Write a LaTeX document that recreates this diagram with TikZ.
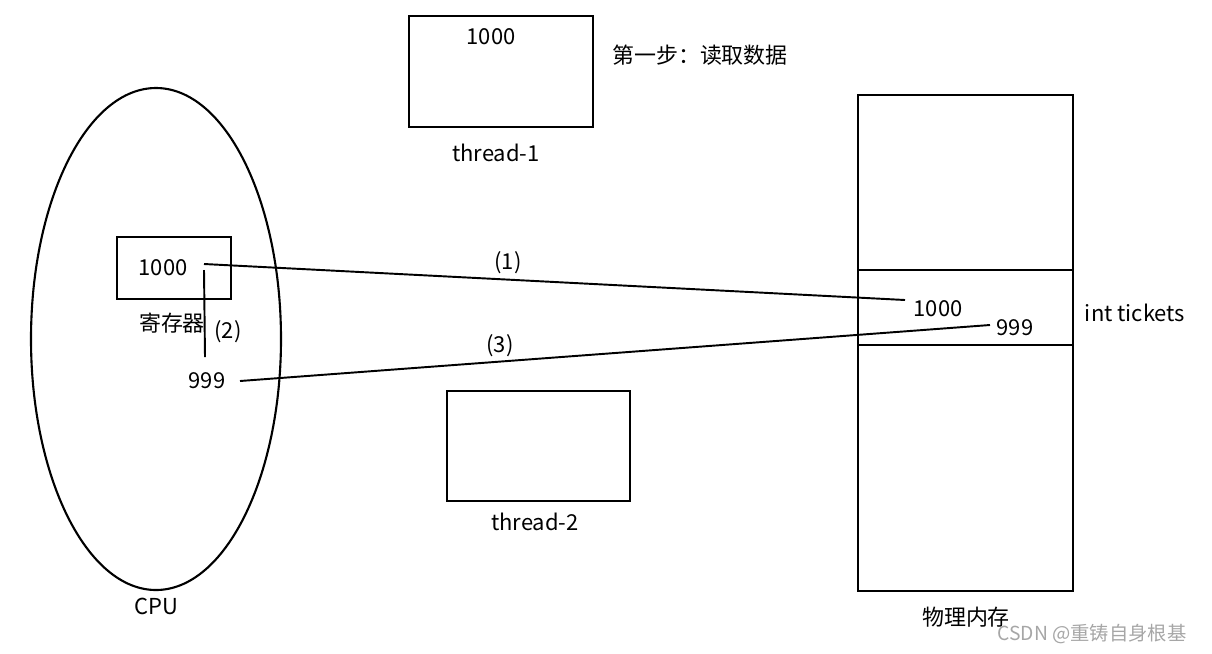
\documentclass[tikz,border=0pt]{standalone}
\usepackage{fontspec}
\setmainfont{Noto Sans CJK SC}
\usetikzlibrary{shapes.geometric}
\tikzset{
  lbl/.style={font=\fontsize{12.5}{14}\selectfont,inner sep=0pt},
  box/.style={draw,line width=1.2pt},
}
\begin{document}
\begin{tikzpicture}[x=0.02cm,y=-0.02cm,line width=1.1pt]
\useasboundingbox (0,0) rectangle (1212,653);

\node [ellipse,draw,line width=1.2pt,minimum width=250*0.02cm,minimum height=502*0.02cm] (cpu) at (156,339) {};
\node [lbl] (cpul) at (156,606) {CPU};

\draw [box] (117,237) rectangle (231,299);
\node [lbl] (r1) at (163,268) {1000};
\node [lbl] (rl) at (172,323) {寄存器};
\node [lbl] (s2) at (228,332) {(2)};
\node [lbl] (r2) at (207,381) {999};
\coordinate (a1) at (204,264);
\coordinate (a2) at (205,357);
\coordinate (a3) at (240,381);

\draw [box] (409,16) rectangle (593,127);
\node [lbl] (t1v) at (491,37) {1000};
\node [lbl] (t1) at (496,153) {thread-1};
\node [lbl] (step) at (700,55) {第一步：读取数据};

\draw [box] (447,391) rectangle (630,501);
\node [lbl] (t2) at (535,522) {thread-2};

\draw [box] (858,95) rectangle (1073,591);
\draw [box] (858,270) -- (1073,270);
\draw [box] (858,345) -- (1073,345);
\node [lbl] (m1) at (938,309) {1000};
\node [lbl] (m2) at (1015,328) {999};
\node [lbl] (tk) at (1135,313) {int tickets};
\node [lbl] (mem) at (966,617) {物理内存};
\coordinate (b1) at (905,300);
\coordinate (b3) at (990,325);

\draw (a1) -- (b1);
\draw (a1 |- 0,270) -- (a2);
\draw (a3) -- (b3);
\node [lbl] (s1) at (508,263) {(1)};
\node [lbl] (s3) at (500,346) {(3)};

\node [lbl,text=gray!70,font=\fontsize{11}{13}\selectfont] (wm) at (1092,634) {CSDN @重铸自身根基};
\end{tikzpicture}
\end{document}
